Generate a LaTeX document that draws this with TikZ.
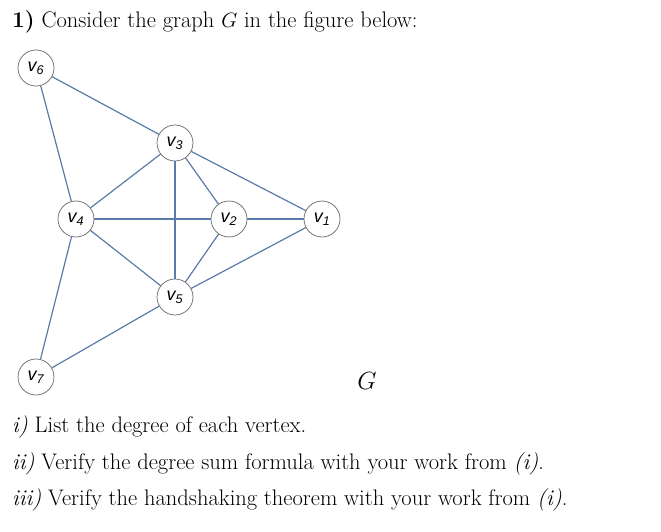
\documentclass[tikz,border=0pt]{standalone}
\usepackage{fontspec}
\newfontfamily\lab{Liberation Sans}
\begin{document}
\begin{tikzpicture}[x=1pt,y=-1pt,
  vtx/.style={circle,draw=gray!80!black,fill=white,line width=0.7pt,minimum size=36pt,inner sep=0pt,font=\lab\itshape\fontsize{18}{18}\selectfont},
  edge/.style={draw={rgb,255:red,90;green,122;blue,170},line width=1.2pt},
  txt/.style={anchor=west,inner sep=0pt,font=\fontsize{22.5}{26}\selectfont}]
\useasboundingbox (0,0) rectangle (661,532);
\node[vtx] (v6) at (36,68) {v\textsubscript{6}};
\node[vtx] (v3) at (175,143) {v\textsubscript{3}};
\node[vtx] (v4) at (76,219) {v\textsubscript{4}};
\node[vtx] (v2) at (229,219) {v\textsubscript{2}};
\node[vtx] (v1) at (322,219) {v\textsubscript{1}};
\node[vtx] (v5) at (175,297) {v\textsubscript{5}};
\node[vtx] (v7) at (36,377) {v\textsubscript{7}};
\foreach \a/\b in {v6/v3,v6/v4,v3/v1,v3/v4,v3/v5,v3/v2,v4/v2,v2/v1,v4/v5,v5/v2,v5/v1,v4/v7,v7/v5}
  \draw[edge] (\a) -- (\b);
\node[txt] (t1) at (12,22) {\textbf{1)} Consider the graph $G$ in the figure below:};
\node[inner sep=0pt,font=\fontsize{36}{36}\selectfont] (g) at (367,381) {$G$};
\node[txt] (t2) at (12,427) {\textit{i)} List the degree of each vertex.};
\node[txt] (t3) at (12,464) {\textit{ii)} Verify the degree sum formula with your work from \textit{(i)}.};
\node[txt] (t4) at (12,500) {\textit{iii)} Verify the handshaking theorem with your work from \textit{(i)}.};
\end{tikzpicture}
\end{document}
